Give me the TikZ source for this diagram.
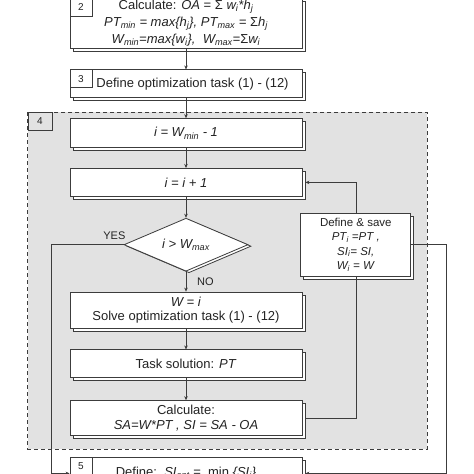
\documentclass[tikz,border=0pt]{standalone}
\usepackage{fontspec}
\setmainfont{Liberation Sans}
\usetikzlibrary{positioning}
\usetikzlibrary {arrows.meta}
\usetikzlibrary{shapes.geometric,shadows,backgrounds}
\definecolor{regiongray}{RGB}{226,226,226}
\definecolor{linegray}{RGB}{60,60,60}
\definecolor{textgray}{RGB}{35,35,35}
\newcommand{\sbs}[1]{\textsubscript{#1}}
\tikzset{stepbox/.style={rectangle,draw=linegray,fill=white,line width=0.8pt,
copy shadow={shadow xshift=3pt,shadow yshift=-3pt},text=textgray,
inner sep=2pt,minimum height=28pt, minimum width=232pt, align=center,
font=\fontsize{13}{14.5}\selectfont}}
\tikzset{decision/.style={diamond,draw=linegray,fill=white,line width=0.8pt,
copy shadow={shadow xshift=3pt,shadow yshift=-1.5pt},text=textgray,aspect=2.34,
inner sep=0pt,minimum height=53pt, minimum width=124pt,
font=\fontsize{13}{14}\selectfont}}
\tikzset{savebox/.style={stepbox,minimum height=63pt, minimum width=110pt,
font=\fontsize{11.5}{14.3}\selectfont}}
\tikzset{tagbox/.style={rectangle,draw=linegray,fill=white,line width=0.6pt,
inner sep=0pt,minimum height=18pt, minimum width=22pt,anchor=north west,
text=textgray,font=\fontsize{10}{12}\selectfont}}
\tikzset{flowlbl/.style={inner sep=0pt,text=textgray,font=\fontsize{11}{12}\selectfont}}
\tikzset{flow/.style={draw=linegray,line width=0.6pt,-{Stealth[length=4pt,width=3.5pt]}}}
\tikzset{link/.style={draw=linegray,line width=0.6pt}}
\tikzset{region/.style={draw=linegray,fill=regiongray,line width=0.7pt,
dash pattern=on 4pt off 3pt}}

\begin{document}
\begin{tikzpicture}
    \useasboundingbox (0,0) rectangle (474pt,-474pt);

    \node[stepbox, minimum height=50pt, inner sep=1pt] (prep) at (186pt,-23pt)
        {Calculate: \textit{OA} = Σ \textit{w\sbs{i}*h\sbs{j}}\\[2.5pt]
         \textit{PT\sbs{min} = max\{h\sbs{j}\}, PT\sbs{max} = }Σ\textit{h\sbs{j}}\\[2.5pt]
         \textit{W\sbs{min}=max\{w\sbs{i}\},\ \ W\sbs{max}=}Σ\textit{w\sbs{i}}};
    \node[stepbox] (task) [below=21pt of prep] {\quad Define optimization task (1) - (12)};
    \node[stepbox, minimum height=29pt] (init) [below=20pt of task] {\textit{i = W\sbs{min} - 1}};
    \node[stepbox] (inc) [below=20pt of init] {\textit{i = i + 1}};
    \node[decision] (test) [below=21pt of inc] {\textit{i > W\sbs{max}}};
    \node[stepbox, minimum height=36pt] (solve) [below=20pt of test]
        {\textit{W = i}\\Solve optimization task (1) - (12)};
    \node[stepbox] (sol) [below=21pt of solve] {Task solution: \textit{PT}};
    \node[stepbox, minimum height=35pt] (calc) [below=22pt of sol]
        {Calculate:\\\textit{SA=W*PT , SI = SA - OA}};
    \node[stepbox, minimum height=32pt] (best) [below=21pt of calc]
        {Define:\ \ \textit{SI\sbs{opt}} =\ \ min \textit{\{SI\sbs{i}\}}};
    \node[savebox] (save) [right=52pt of test]
        {Define \& save\\\textit{PT\sbs{i} =PT ,}\\\textit{SI\sbs{i}= SI,}\\\textit{W\sbs{i} = W}};

    % block 4
    \coordinate (regA) at ([xshift=-42pt,yshift=6pt]init.north west);
    \coordinate (regB) at ([xshift=16pt]save.east |- calc.south);
    \begin{scope}[on background layer]
        \draw[region] (regA) rectangle ([yshift=-13pt]regB);
    \end{scope}
    \node[tagbox, fill=regiongray, minimum width=24pt] (tag4) at (regA) {4};

    \node[tagbox] (tag2) at (prep.north west) {2};
    \node[tagbox] (tag3) at (task.north west) {3};
    \node[tagbox] (tag5) at (best.north west) {5};

    \draw[flow] (prep) -- (task);
    \draw[flow] (task) -- (init);
    \draw[flow] (init) -- (inc);
    \draw[flow] (inc) -- (test);
    \draw[flow] (test) -- (solve);
    \draw[flow] (solve) -- (sol);
    \draw[flow] (sol) -- (calc);

    \draw[link] ([xshift=3pt]calc.east) -| (save.south);
    \draw[flow] (save.north) |- ([xshift=3pt]inc.east);
    \draw[flow] (save.east) -| ([xshift=144pt]best.east) -- ([xshift=3pt]best.east);
    \draw[flow] (test.west) -| ([xshift=-18pt]best.west) -- (best.west);

    \node[flowlbl, anchor=south east] (yes) at ([xshift=2pt,yshift=5pt]test.west) {YES};
    \node[flowlbl, anchor=west] (no) at ([xshift=11pt,yshift=-10pt]test.south) {NO};

\end{tikzpicture}
\end{document}
